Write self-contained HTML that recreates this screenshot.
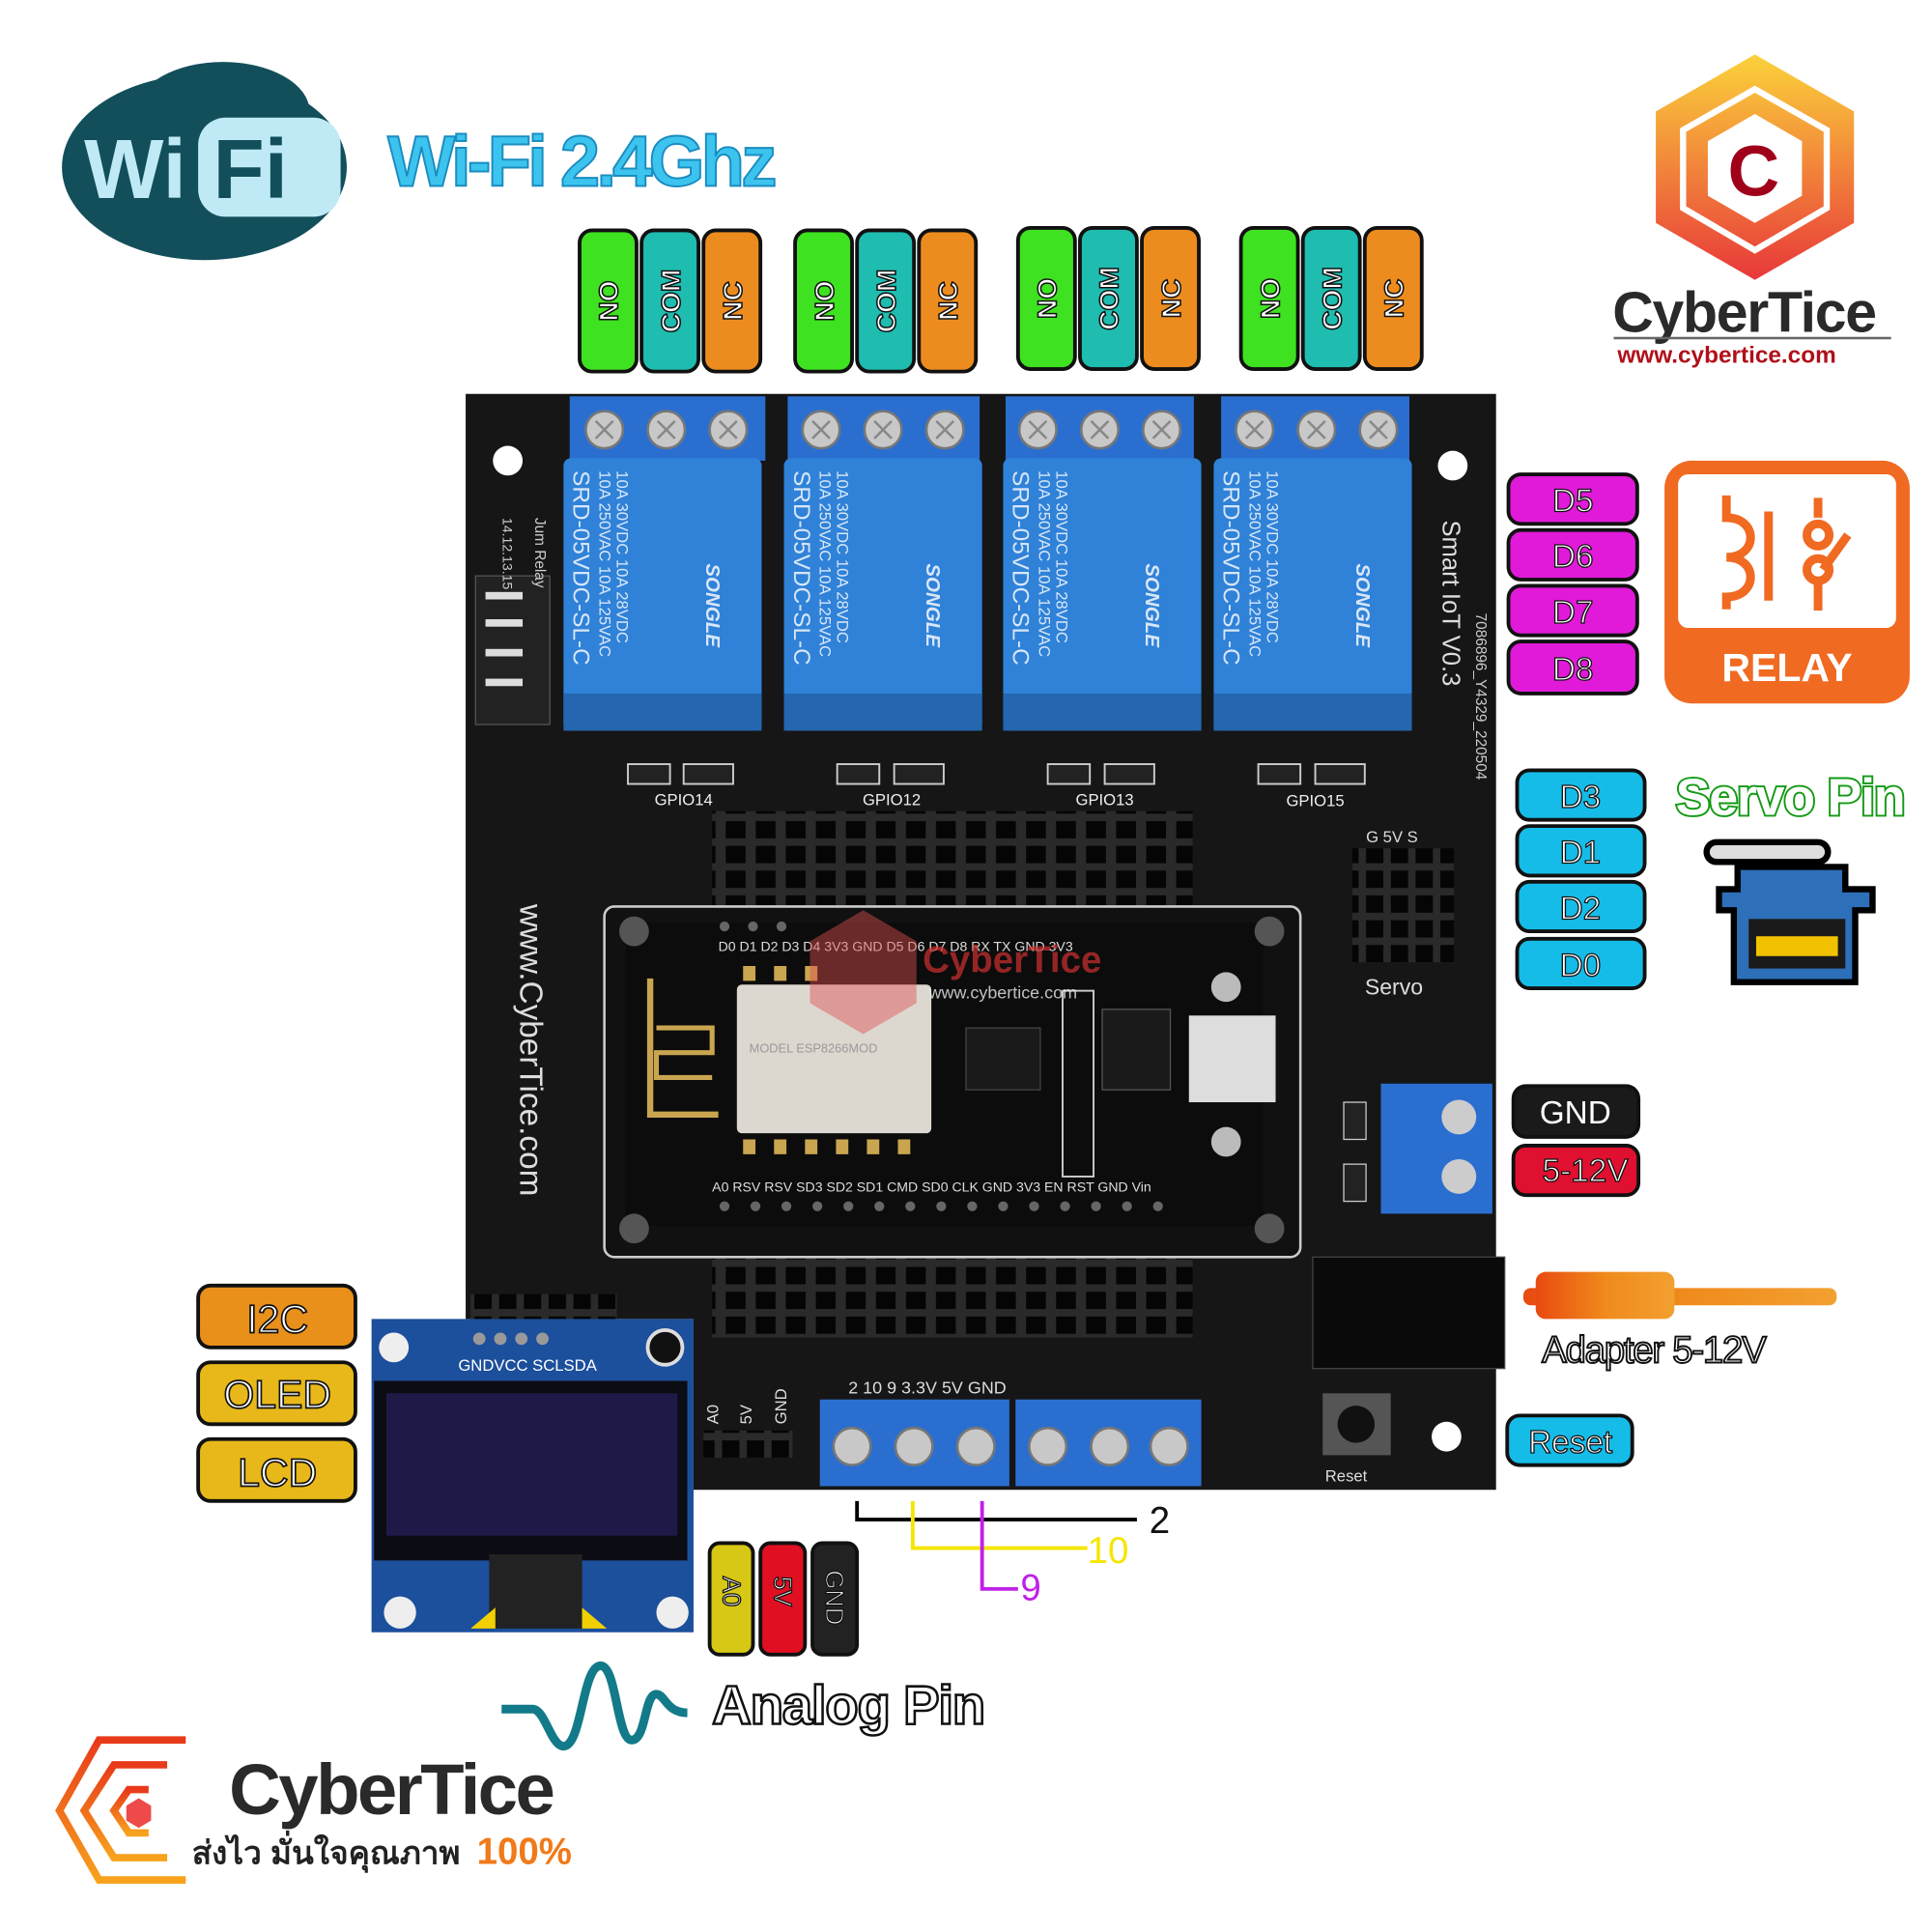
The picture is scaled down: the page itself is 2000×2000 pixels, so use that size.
<!DOCTYPE html>
<html><head><meta charset="utf-8"><style>
html,body{margin:0;padding:0;background:#fff;}
svg{display:block;}
text{font-family:"Liberation Sans","DejaVu Sans",sans-serif;}
</style></head><body>
<svg width="2000" height="2000" viewBox="0 0 1560 1560" xmlns="http://www.w3.org/2000/svg">
<defs>
<linearGradient id="hex" x1="0" y1="0" x2="0" y2="1"><stop offset="0" stop-color="#fbd23a"/><stop offset="1" stop-color="#e8383a"/></linearGradient>
<linearGradient id="cab" x1="0" y1="0" x2="1" y2="0"><stop offset="0" stop-color="#e84a10"/><stop offset="0.5" stop-color="#f08a1c"/><stop offset="1" stop-color="#f2a030"/></linearGradient>
<linearGradient id="bc" x1="0" y1="0" x2="0" y2="1"><stop offset="0" stop-color="#e83a1a"/><stop offset="1" stop-color="#f7a21c"/></linearGradient>
<pattern id="hdr" width="24.25" height="20" patternUnits="userSpaceOnUse"><rect width="24.25" height="20" fill="#2a2a2a"/><rect x="4" y="3" width="16" height="14" fill="#050505"/></pattern>
<pattern id="hdr2" width="20" height="20" patternUnits="userSpaceOnUse"><rect width="20" height="20" fill="#2a2a2a"/><rect x="3" y="3" width="14" height="14" fill="#050505"/></pattern>
</defs>

<!-- WiFi logo -->
<ellipse cx="165" cy="135" rx="115" ry="75" fill="#124f5a"/>
<ellipse cx="180" cy="90" rx="70" ry="40" fill="#124f5a"/>
<text x="68" y="160" font-size="68" font-weight="bold" fill="#bfeaf5">Wi</text>
<rect x="160" y="95" width="115" height="80" rx="22" fill="#bfeaf5"/>
<text x="172" y="160" font-size="68" font-weight="bold" fill="#124f5a">Fi</text>
<text x="313" y="150" font-size="58" font-weight="bold" fill="#3cc4ef" stroke="#1a8cc0" stroke-width="1.5" letter-spacing="-3">Wi-Fi 2.4Ghz</text>

<!-- Top right logo -->
<polygon points="1417,44 1497,90 1497,180 1417,226 1337,180 1337,90" fill="url(#hex)"/>
<polygon points="1417,72 1475,105 1475,168 1417,202 1359,168 1359,105" fill="none" stroke="#fff" stroke-width="5"/>
<polygon points="1417,92 1455,114 1455,158 1417,180 1379,158 1379,114" fill="#fff"/>
<text x="1395" y="158" font-size="58" font-weight="bold" fill="#a0001a">C</text>
<text x="1302" y="268" font-size="46" font-weight="bold" fill="#2a2a2a" letter-spacing="-1">CyberTice</text>
<rect x="1303" y="272" width="224" height="2" fill="#666"/>
<text x="1306" y="293" font-size="19" font-weight="bold" fill="#b0101a">www.cybertice.com</text>

<!-- Top NO/COM/NC labels -->
<g stroke="#111" stroke-width="3">
<rect x="468" y="186" width="46" height="114" rx="10" fill="#3ee220"/><rect x="518" y="186" width="46" height="114" rx="10" fill="#1fbcb0"/><rect x="568" y="186" width="46" height="114" rx="10" fill="#ec8c1e"/>
<rect x="642" y="186" width="46" height="114" rx="10" fill="#3ee220"/><rect x="692" y="186" width="46" height="114" rx="10" fill="#1fbcb0"/><rect x="742" y="186" width="46" height="114" rx="10" fill="#ec8c1e"/>
<rect x="822" y="184" width="46" height="114" rx="10" fill="#3ee220"/><rect x="872" y="184" width="46" height="114" rx="10" fill="#1fbcb0"/><rect x="922" y="184" width="46" height="114" rx="10" fill="#ec8c1e"/>
<rect x="1002" y="184" width="46" height="114" rx="10" fill="#3ee220"/><rect x="1052" y="184" width="46" height="114" rx="10" fill="#1fbcb0"/><rect x="1102" y="184" width="46" height="114" rx="10" fill="#ec8c1e"/>
</g>
<g font-size="22" font-weight="bold" fill="#fff" stroke="#111" stroke-width="1.2" text-anchor="middle">
<text transform="translate(499,243) rotate(-90)">NO</text><text transform="translate(549,243) rotate(-90)">COM</text><text transform="translate(599,243) rotate(-90)">NC</text>
<text transform="translate(673,243) rotate(-90)">NO</text><text transform="translate(723,243) rotate(-90)">COM</text><text transform="translate(773,243) rotate(-90)">NC</text>
<text transform="translate(853,241) rotate(-90)">NO</text><text transform="translate(903,241) rotate(-90)">COM</text><text transform="translate(953,241) rotate(-90)">NC</text>
<text transform="translate(1033,241) rotate(-90)">NO</text><text transform="translate(1083,241) rotate(-90)">COM</text><text transform="translate(1133,241) rotate(-90)">NC</text>
</g>

<!-- Board -->
<path d="M376,318 L1208,318 L1208,1203 L560,1203 L560,1065 L376,1065 Z" fill="#161616"/>
<circle cx="410" cy="372" r="12" fill="#fff"/><circle cx="1173" cy="376" r="12" fill="#fff"/><circle cx="1168" cy="1160" r="12" fill="#fff"/>
<text transform="translate(420,730) rotate(90)" font-size="26" fill="#ddd">www.CyberTice.com</text>
<text transform="translate(1165,420) rotate(90)" font-size="20" fill="#ddd">Smart IoT V0.3</text>
<text transform="translate(1192,495) rotate(90)" font-size="12" fill="#ccc">7086896_Y4329_220504</text>
<rect x="384" y="465" width="60" height="120" fill="#222" stroke="#555"/>
<g fill="#ddd"><rect x="392" y="478" width="30" height="6"/><rect x="392" y="500" width="30" height="6"/><rect x="392" y="524" width="30" height="6"/><rect x="392" y="548" width="30" height="6"/></g>
<text transform="translate(432,418) rotate(90)" font-size="12" fill="#ccc">Jum Relay</text>
<text transform="translate(406,418) rotate(90)" font-size="11" fill="#ccc">14.12.13.15</text>

<!-- relays -->
<g>
<rect x="460" y="320" width="158" height="52" fill="#2a6fd0"/><rect x="636" y="320" width="155" height="52" fill="#2a6fd0"/><rect x="812" y="320" width="152" height="52" fill="#2a6fd0"/><rect x="986" y="320" width="152" height="52" fill="#2a6fd0"/>
<rect x="455" y="370" width="160" height="220" rx="6" fill="#2f82d8"/><rect x="633" y="370" width="160" height="220" rx="6" fill="#2f82d8"/><rect x="810" y="370" width="160" height="220" rx="6" fill="#2f82d8"/><rect x="980" y="370" width="160" height="220" rx="6" fill="#2f82d8"/>
<rect x="455" y="560" width="160" height="30" fill="#2566b0"/><rect x="633" y="560" width="160" height="30" fill="#2566b0"/><rect x="810" y="560" width="160" height="30" fill="#2566b0"/><rect x="980" y="560" width="160" height="30" fill="#2566b0"/>
</g>
<g fill="#c8c8c8" stroke="#777" stroke-width="2">
<circle cx="488" cy="347" r="15"/><circle cx="538" cy="347" r="15"/><circle cx="588" cy="347" r="15"/>
<circle cx="663" cy="347" r="15"/><circle cx="713" cy="347" r="15"/><circle cx="763" cy="347" r="15"/>
<circle cx="838" cy="347" r="15"/><circle cx="888" cy="347" r="15"/><circle cx="938" cy="347" r="15"/>
<circle cx="1013" cy="347" r="15"/><circle cx="1063" cy="347" r="15"/><circle cx="1113" cy="347" r="15"/>
</g>
<g fill="#d8e6f8">
<g font-size="19"><text transform="translate(463,380) rotate(90)">SRD-05VDC-SL-C</text><text transform="translate(641,380) rotate(90)">SRD-05VDC-SL-C</text><text transform="translate(818,380) rotate(90)">SRD-05VDC-SL-C</text><text transform="translate(988,380) rotate(90)">SRD-05VDC-SL-C</text></g>
<g font-size="13">
<text transform="translate(484,380) rotate(90)">10A 250VAC  10A 125VAC</text><text transform="translate(498,380) rotate(90)">10A 30VDC   10A 28VDC</text>
<text transform="translate(662,380) rotate(90)">10A 250VAC  10A 125VAC</text><text transform="translate(676,380) rotate(90)">10A 30VDC   10A 28VDC</text>
<text transform="translate(839,380) rotate(90)">10A 250VAC  10A 125VAC</text><text transform="translate(853,380) rotate(90)">10A 30VDC   10A 28VDC</text>
<text transform="translate(1009,380) rotate(90)">10A 250VAC  10A 125VAC</text><text transform="translate(1023,380) rotate(90)">10A 30VDC   10A 28VDC</text>
</g>
</g>
<g font-size="16" font-style="italic" font-weight="bold" fill="#d8e6f8">
<text transform="translate(570,455) rotate(90)">SONGLE</text><text transform="translate(748,455) rotate(90)">SONGLE</text><text transform="translate(925,455) rotate(90)">SONGLE</text><text transform="translate(1095,455) rotate(90)">SONGLE</text>
</g>
<g fill="#222" stroke="#ccc" stroke-width="1.5">
<rect x="507" y="617" width="34" height="16"/><rect x="552" y="617" width="40" height="16"/>
<rect x="676" y="617" width="34" height="16"/><rect x="722" y="617" width="40" height="16"/>
<rect x="846" y="617" width="34" height="16"/><rect x="892" y="617" width="40" height="16"/>
<rect x="1016" y="617" width="34" height="16"/><rect x="1062" y="617" width="40" height="16"/>
</g>
<g font-size="13" fill="#eee" text-anchor="middle">
<text x="552" y="650">GPIO14</text><text x="720" y="650">GPIO12</text><text x="892" y="650">GPIO13</text><text x="1062" y="651">GPIO15</text>
</g>

<!-- headers -->
<rect x="575" y="655" width="388" height="80" fill="url(#hdr)"/>
<rect x="575" y="1000" width="388" height="80" fill="url(#hdr)"/>
<rect x="380" y="1045" width="118" height="22" fill="url(#hdr2)"/>
<rect x="1092" y="685" width="82" height="92" fill="url(#hdr2)"/>
<text x="1102" y="803" font-size="18" fill="#ddd">Servo</text>
<text x="1103" y="680" font-size="13" fill="#ddd">G  5V  S</text>

<!-- NodeMCU -->
<rect x="488" y="732" width="562" height="283" rx="8" fill="#111" stroke="#ccc" stroke-width="2"/>
<rect x="505" y="745" width="515" height="245" fill="#0c0c0c"/>
<g fill="#555"><circle cx="512" cy="752" r="12"/><circle cx="1025" cy="752" r="12"/><circle cx="512" cy="992" r="12"/><circle cx="1025" cy="992" r="12"/></g>
<g fill="#c9a550"><rect x="600" y="780" width="10" height="12"/><rect x="625" y="780" width="10" height="12"/><rect x="650" y="780" width="10" height="12"/><rect x="600" y="920" width="10" height="12"/><rect x="625" y="920" width="10" height="12"/><rect x="650" y="920" width="10" height="12"/><rect x="675" y="920" width="10" height="12"/><rect x="700" y="920" width="10" height="12"/><rect x="725" y="920" width="10" height="12"/></g>
<rect x="595" y="795" width="157" height="120" rx="4" fill="#dcd8d0"/>
<text x="605" y="850" font-size="10" fill="#999">MODEL   ESP8266MOD</text>
<path d="M525,790 V900 H580" fill="none" stroke="#c9a550" stroke-width="5"/>
<path d="M530,830 H575 V850 H530 V870 H575" fill="none" stroke="#c9a550" stroke-width="4"/>
<rect x="960" y="820" width="70" height="70" fill="#ddd"/>
<rect x="890" y="815" width="55" height="65" fill="#1a1a1a" stroke="#555"/>
<rect x="780" y="830" width="60" height="50" fill="#1a1a1a" stroke="#444"/>
<rect x="858" y="800" width="25" height="150" fill="none" stroke="#ccc" stroke-width="1.5"/>
<circle cx="990" cy="797" r="12" fill="#bbb"/><circle cx="990" cy="922" r="12" fill="#bbb"/>
<text x="580" y="768" font-size="11" fill="#ddd">D0   D1   D2   D3  D4  3V3  GND  D5   D6   D7  D8  RX  TX  GND 3V3</text>
<text x="575" y="962" font-size="11" fill="#ddd">A0  RSV  RSV  SD3 SD2 SD1 CMD SD0 CLK GND 3V3  EN  RST GND  Vin</text>
<g fill="#666"><circle cx="585" cy="748" r="4"/><circle cx="608" cy="748" r="4"/><circle cx="631" cy="748" r="4"/><circle cx="585" cy="974" r="4"/><circle cx="610" cy="974" r="4"/><circle cx="635" cy="974" r="4"/><circle cx="660" cy="974" r="4"/><circle cx="685" cy="974" r="4"/><circle cx="710" cy="974" r="4"/><circle cx="735" cy="974" r="4"/><circle cx="760" cy="974" r="4"/><circle cx="785" cy="974" r="4"/><circle cx="810" cy="974" r="4"/><circle cx="835" cy="974" r="4"/><circle cx="860" cy="974" r="4"/><circle cx="885" cy="974" r="4"/><circle cx="910" cy="974" r="4"/><circle cx="935" cy="974" r="4"/></g>
<polygon points="697,735 740,760 740,810 697,835 654,810 654,760" fill="#e05050" opacity="0.45"/>
<text x="745" y="785" font-size="30" font-weight="bold" fill="#d03030" opacity="0.7">CyberTice</text>
<text x="750" y="806" font-size="14" fill="#eee" opacity="0.8">www.cybertice.com</text>

<!-- right side power block -->
<rect x="1115" y="875" width="90" height="105" fill="#2a6fd0"/>
<circle cx="1178" cy="902" r="14" fill="#ccc"/><circle cx="1178" cy="950" r="14" fill="#ccc"/>
<rect x="1085" y="890" width="18" height="30" fill="#222" stroke="#ccc"/><rect x="1085" y="940" width="18" height="30" fill="#222" stroke="#ccc"/>
<rect x="1060" y="1015" width="155" height="90" fill="#0a0a0a" stroke="#444"/>
<rect x="1068" y="1125" width="55" height="50" fill="#555"/><circle cx="1095" cy="1150" r="15" fill="#111"/>
<text x="1070" y="1196" font-size="13" fill="#ddd">Reset</text>

<!-- bottom terminals -->
<rect x="662" y="1130" width="153" height="70" fill="#2a6fd0"/><rect x="820" y="1130" width="150" height="70" fill="#2a6fd0"/>
<g fill="#c8c8c8" stroke="#777" stroke-width="2"><circle cx="688" cy="1168" r="15"/><circle cx="738" cy="1168" r="15"/><circle cx="788" cy="1168" r="15"/><circle cx="846" cy="1168" r="15"/><circle cx="896" cy="1168" r="15"/><circle cx="944" cy="1168" r="15"/></g>
<g stroke="#888" stroke-width="2">
<path d="M481,340 l14,14 M495,340 l-14,14 M531,340 l14,14 M545,340 l-14,14 M581,340 l14,14 M595,340 l-14,14"/>
<path d="M656,340 l14,14 M670,340 l-14,14 M706,340 l14,14 M720,340 l-14,14 M756,340 l14,14 M770,340 l-14,14"/>
<path d="M831,340 l14,14 M845,340 l-14,14 M881,340 l14,14 M895,340 l-14,14 M931,340 l14,14 M945,340 l-14,14"/>
<path d="M1006,340 l14,14 M1020,340 l-14,14 M1056,340 l14,14 M1070,340 l-14,14 M1106,340 l14,14 M1120,340 l-14,14"/>
</g>
<text x="685" y="1125" font-size="14" fill="#ddd">2       10       9        3.3V    5V     GND</text>
<g font-size="13" fill="#ddd"><text transform="translate(580,1150) rotate(-90)">A0</text><text transform="translate(607,1150) rotate(-90)">5V</text><text transform="translate(635,1150) rotate(-90)">GND</text></g>
<rect x="568" y="1155" width="72" height="22" fill="url(#hdr2)"/>

<!-- lines -->
<path d="M692,1212 V1227 H918" fill="none" stroke="#000" stroke-width="3"/>
<path d="M737,1212 V1250 H878" fill="none" stroke="#f5e600" stroke-width="3"/>
<path d="M793,1212 V1283 H822" fill="none" stroke="#c020e8" stroke-width="3"/>
<text x="928" y="1238" font-size="30" fill="#111">2</text>
<text x="878" y="1262" font-size="30" fill="#f5e600">10</text>
<text x="824" y="1292" font-size="30" fill="#c020e8">9</text>

<!-- Right labels -->
<g stroke="#111" stroke-width="3">
<rect x="1218" y="383" width="104" height="40" rx="10" fill="#e01ad8"/><rect x="1218" y="428" width="104" height="40" rx="10" fill="#e01ad8"/><rect x="1218" y="473" width="104" height="40" rx="10" fill="#e01ad8"/><rect x="1218" y="518" width="104" height="42" rx="10" fill="#e01ad8"/>
<rect x="1225" y="622" width="103" height="40" rx="10" fill="#16bce8"/><rect x="1225" y="667" width="103" height="40" rx="10" fill="#16bce8"/><rect x="1225" y="712" width="103" height="40" rx="10" fill="#16bce8"/><rect x="1225" y="758" width="103" height="40" rx="10" fill="#16bce8"/>
<rect x="1222" y="877" width="101" height="41" rx="10" fill="#1a1a1a"/><rect x="1222" y="925" width="101" height="40" rx="10" fill="#e01030"/>
<rect x="1217" y="1143" width="101" height="40" rx="10" fill="#16bce8"/>
</g>
<g font-size="26" fill="#fff" stroke="#111" stroke-width="1" text-anchor="middle">
<text x="1270" y="413">D5</text><text x="1270" y="458">D6</text><text x="1270" y="503">D7</text><text x="1270" y="549">D8</text>
<text x="1276" y="652">D3</text><text x="1276" y="697">D1</text><text x="1276" y="742">D2</text><text x="1276" y="788">D0</text>
<text x="1272" y="907" stroke="none">GND</text><text x="1280" y="954">5-12V</text><text x="1268" y="1173">Reset</text>
</g>

<!-- RELAY icon -->
<rect x="1344" y="372" width="198" height="196" rx="22" fill="#f06a22"/>
<rect x="1355" y="383" width="176" height="124" rx="8" fill="#fff"/>
<g fill="none" stroke="#f06a22" stroke-width="7">
<path d="M1394,400 V418 C1420,418 1420,450 1394,450 C1420,450 1420,482 1394,482 V492"/>
<path d="M1428,413 V485"/>
<path d="M1468,402 V418 M1468,468 V493 M1472,460 L1492,432"/>
<circle cx="1468" cy="432" r="9"/><circle cx="1468" cy="460" r="9"/>
</g>
<text x="1443" y="550" font-size="32" font-weight="bold" fill="#fff" text-anchor="middle">RELAY</text>

<!-- Servo -->
<text x="1353" y="658" font-size="42" fill="#fff" stroke="#129a14" stroke-width="3" paint-order="stroke" font-weight="bold" letter-spacing="-1">Servo Pin</text>
<rect x="1378" y="680" width="98" height="16" rx="8" fill="#ddd" stroke="#000" stroke-width="5"/>
<path d="M1403,700 H1490 V718 H1512 V735 H1498 V793 H1400 V735 H1388 V718 H1403 Z" fill="#2d6fb8" stroke="#000" stroke-width="5"/>
<rect x="1412" y="742" width="78" height="40" fill="#1a1a1a"/>
<rect x="1418" y="756" width="66" height="16" fill="#f2c200"/>

<!-- Power labels -->
<rect x="1230" y="1040" width="253" height="14" rx="6" fill="url(#cab)"/>
<rect x="1240" y="1027" width="112" height="38" rx="8" fill="url(#cab)"/>
<text x="1245" y="1100" font-size="30" fill="#fff" stroke="#111" stroke-width="1.5" letter-spacing="-1">Adapter 5-12V</text>

<!-- OLED -->
<rect x="160" y="1038" width="127" height="50" rx="10" fill="#e8901a" stroke="#111" stroke-width="3"/>
<rect x="160" y="1100" width="127" height="50" rx="10" fill="#e8b81a" stroke="#111" stroke-width="3"/>
<rect x="160" y="1162" width="127" height="50" rx="10" fill="#e8b81a" stroke="#111" stroke-width="3"/>
<g font-size="32" fill="#fff" stroke="#111" stroke-width="1.3" text-anchor="middle"><text x="224" y="1076">I2C</text><text x="224" y="1137">OLED</text><text x="224" y="1200">LCD</text></g>
<rect x="300" y="1065" width="260" height="253" fill="#1c4f9c"/>
<circle cx="318" cy="1088" r="12" fill="#eee"/><circle cx="537" cy="1088" r="14" fill="#111" stroke="#ddd" stroke-width="3"/>
<circle cx="323" cy="1302" r="13" fill="#eee"/><circle cx="543" cy="1302" r="13" fill="#eee"/>
<g fill="#999"><circle cx="387" cy="1081" r="5"/><circle cx="404" cy="1081" r="5"/><circle cx="421" cy="1081" r="5"/><circle cx="438" cy="1081" r="5"/></g>
<text x="370" y="1107" font-size="13" fill="#fff">GNDVCC SCLSDA</text>
<rect x="302" y="1115" width="253" height="145" fill="#0c0c14"/>
<rect x="312" y="1125" width="235" height="115" fill="#1e1a48"/>
<rect x="395" y="1255" width="75" height="60" fill="#222"/>
<polygon points="380,1315 400,1298 400,1315" fill="#f2d000"/><polygon points="490,1315 470,1298 470,1315" fill="#f2d000"/>
<rect x="573" y="1246" width="35" height="90" rx="8" fill="#d6c814" stroke="#111" stroke-width="3"/>
<rect x="614" y="1246" width="36" height="90" rx="8" fill="#e01022" stroke="#111" stroke-width="3"/>
<rect x="656" y="1246" width="36" height="90" rx="8" fill="#222" stroke="#111" stroke-width="3"/>
<g font-size="20" fill="#fff" stroke="#111" stroke-width="1" text-anchor="middle">
<text transform="translate(584,1285) rotate(90)">A0</text><text transform="translate(625,1285) rotate(90)">5V</text><text transform="translate(667,1290) rotate(90)">GND</text>
</g>

<!-- analog -->
<path d="M405,1380 H430 C440,1380 445,1410 455,1410 C470,1410 470,1345 485,1345 C498,1345 498,1405 510,1405 C522,1405 520,1368 530,1368 C537,1368 538,1383 555,1383" fill="none" stroke="#137a8a" stroke-width="7"/>
<text x="575" y="1392" font-size="44" fill="#fff" stroke="#111" stroke-width="2" font-weight="bold" letter-spacing="-1">Analog Pin</text>

<!-- bottom logo -->
<g fill="none" stroke="url(#bc)" stroke-width="6">
<path d="M150,1405 H80 L48,1462 L80,1518 H150"/>
<path d="M135,1425 H92 L68,1462 L92,1500 H135"/>
<path d="M120,1445 H104 L92,1462 L104,1480 H120"/>
</g>
<polygon points="112,1452 122,1458 122,1470 112,1476 102,1470 102,1458" fill="#ee4a4a"/>
<text x="185" y="1465" font-size="58" font-weight="bold" fill="#2a2a2a" letter-spacing="-2">CyberTice</text>
<text x="155" y="1505" font-size="26" font-weight="bold" fill="#222" font-family="'DejaVu Sans',sans-serif">ส่งไว มั่นใจคุณภาพ</text>
<text x="385" y="1505" font-size="30" font-weight="bold" fill="#f07a1a">100%</text>
</svg>
</body></html>
